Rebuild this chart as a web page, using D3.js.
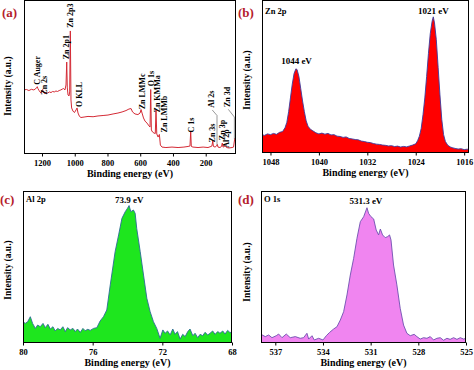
<!DOCTYPE html>
<html>
<head>
<meta charset="utf-8">
<script src="https://cdn.jsdelivr.net/npm/d3@7"></script>
<style>
  body { margin: 0; background: #fff; }
  svg { display: block; font-family: "Liberation Serif", "Times New Roman", serif; font-weight: bold; }
</style>
</head>
<body>
<script>
//Figure size
var W = 474, H = 370;

//(a) survey spectrum: [binding energy, intensity]
var survey = [
  [1310,41.6],[1295,41.9],[1280,41.2],[1265,42.0],[1250,41.6],[1240,42.2],[1233,43.2],[1229,43.7],
  [1225,42.5],[1218,41.2],[1212,40.3],[1206,39.6],[1201,40.9],[1196,41.9],[1191,39.9],[1184,39.3],
  [1175,39.9],[1165,39.6],[1155,40.3],[1145,39.9],[1135,40.6],[1125,40.3],[1115,40.9],[1105,40.6],
  [1095,41.2],[1085,41.6],[1075,42.2],[1068,42.5],[1060,41.6],[1053.4,44.8],[1049,59.7],[1045.5,42.9],
  [1041,38.3],[1035,37.7],[1031,40.3],[1027,79.9],[1023,35.1],[1019,29.9],[1011,27.9],[1002,26.9],
  [992,28.6],[986,29.9],[980,26.6],[971,24.4],[962,23.7],[943,24.0],[919,24.4],[888,24.2],
  [858,24.7],[827,25.0],[797,25.3],[766,26.0],[736,26.6],[711,27.3],[687,28.2],[669,29.2],
  [656,29.5],[647,27.3],[632,26.0],[614,25.6],[601,26.6],[595,28.9],[589,26.6],[580,23.4],
  [571,21.4],[559,20.1],[546,18.2],[540,17.5],[536,41.9],[532,15.6],[525,14.3],[516,13.6],
  [508,13.3],[503.6,28.6],[499,13.0],[491,11.0],[483,12.7],[477,5.8],[467,4.5],[443,4.2],
  [406,4.5],[369,4.2],[333,4.5],[308,4.9],[296,5.2],[291.7,14.6],[288,4.9],[278,4.5],
  [247,4.2],[216,4.5],[186,4.2],[168,4.9],[162,5.2],[157,8.4],[153,4.9],[143,4.5],
  [134,5.2],[129,6.2],[125,4.5],[113,4.2],[103.5,4.9],[98.7,7.1],[94.4,4.5],[85,4.9],
  [80.3,5.5],[73,4.2],[58,3.9],[39,4.2],[30,4.5],[24,9.1],[20,10.4],[15,7.8]
];

//(a) peak labels: [text, energy, intensity at text start]
var surveyLabels = [
  ["C Auger",1232,45],["Zn 2s",1188,38.5],["Zn 2p1",1053,61.5],["Zn 2p3",1029,82],
  ["O KLL",974,30.5],["Zn LMMc",589,29],["O 1s",534,44],["Zn KMMa",497,27],
  ["Zn LMMb",455,14],["C 1s",290,14],["Zn 3s",162,7.5],["Al 2s",168,30],
  ["Zn 3p",99,9],["Al 2p",76,4],["Zn 3d",68,30.5]
];

//(a) leader lines
var surveyLeaders = [
  [[160,28.6],[131,25],[131,6]],
  [[62,29],[25,24],[25,9.5]]
];

//(b) Zn 2p
var zn2p = [
  [1049.4,12],[1049.0,11.5],[1048.5,12.5],[1048.0,12],[1047.5,12.8],[1047.0,12.2],[1046.5,13.5],
  [1046.0,14],[1045.6,16.5],[1045.3,20],[1045.0,27],[1044.7,36],[1044.4,45],[1044.1,52],
  [1043.8,55],[1043.6,54.5],[1043.3,50],[1043.0,42],[1042.7,34],[1042.4,27],[1042.1,21],
  [1041.8,17.5],[1041.4,15.5],[1041.0,14.5],[1040.5,13.2],[1040.0,12.5],[1039.5,13],[1039.0,12.3],
  [1038.5,12.8],[1038.0,11.8],[1037.5,12],[1037.0,11],[1036.5,10.8],[1036.0,10.2],[1035.5,10.5],
  [1035.0,9.5],[1034.5,9.2],[1034.0,8.8],[1033.5,8.6],[1033.0,7.8],[1032.5,7.5],[1032.0,7],
  [1031.5,6.8],[1031.0,6.2],[1030.5,5.8],[1030.0,5.6],[1029.5,5.2],[1029.0,5.0],[1028.5,4.6],
  [1028.0,4.8],[1027.5,4.2],[1027.0,4.5],[1026.5,3.9],[1026.0,4.3],[1025.5,4],[1025.0,4.6],
  [1024.5,5.2],[1024.0,6],[1023.7,8],[1023.4,11],[1023.1,16],[1022.8,25],[1022.5,36],
  [1022.2,50],[1021.9,65],[1021.6,78],[1021.3,86],[1021.1,89],[1020.9,85],[1020.6,74],
  [1020.3,56],[1020.0,38],[1019.7,22],[1019.4,12],[1019.1,7.5],[1018.7,5],[1018.3,4],
  [1018.0,3.5],[1017.5,3],[1017.0,2.6],[1016.5,2.8],[1016.0,2.2],[1015.5,2.5],[1015.2,2.3]
];

//(c) Al 2p
var al2p = [
  [80.00,14.0],[79.87,12.9],[79.73,14.0],[79.58,17.3],[79.45,12.9],[79.29,9.6],[79.16,11.8],
  [79.01,10.7],[78.85,12.9],[78.72,10.1],[78.57,12.3],[78.43,9.2],[78.28,10.7],[78.15,7.9],
  [78.01,9.6],[77.86,8.6],[77.71,10.7],[77.57,7.5],[77.44,10.1],[77.29,8.6],[77.13,9.6],
  [77.00,7.5],[76.87,9.2],[76.71,7.0],[76.56,9.6],[76.43,8.1],[76.28,9.0],[76.14,8.3],
  [75.95,9.6],[75.76,10.1],[75.57,14.5],[75.38,17.3],[75.19,21.7],[74.99,38.2],[74.71,60.1],
  [74.51,71.1],[74.32,82.0],[74.13,86.4],[74.00,88.6],[73.91,90.4],[73.81,86.4],[73.66,87.5],
  [73.56,85.3],[73.47,75.4],[73.27,60.1],[73.08,44.7],[72.89,29.4],[72.70,20.6],[72.51,14.0],
  [72.32,9.6],[72.13,3.1],[71.97,8.6],[71.84,6.4],[71.70,7.9],[71.55,5.3],[71.40,9.2],
  [71.27,5.7],[71.13,7.5],[70.98,2.6],[70.83,5.7],[70.69,4.2],[70.54,7.5],[70.41,9.2],
  [70.25,4.8],[70.12,6.4],[69.97,3.5],[69.83,5.7],[69.68,4.8],[69.55,7.0],[69.39,5.3],
  [69.26,6.4],[69.11,7.9],[68.97,5.7],[68.82,7.5],[68.69,6.4],[68.53,7.9],[68.40,5.9],
  [68.25,8.3],[68.11,6.8],[68.00,7.5]
];

//(d) O 1s
var o1s = [
  [537.90,5.7],[537.63,4.2],[537.42,5.3],[537.21,3.5],[536.94,4.8],[536.79,5.9],[536.58,3.5],
  [536.31,5.9],[536.06,3.5],[535.74,4.2],[535.43,3.1],[535.22,3.5],[535.01,6.4],[534.90,2.6],
  [534.69,4.8],[534.55,2.0],[534.27,3.1],[534.00,2.0],[533.79,4.8],[533.58,7.0],[533.33,9.2],
  [533.12,10.7],[532.91,15.1],[532.70,20.6],[532.49,31.6],[532.28,44.7],[532.07,55.7],
  [531.86,68.9],[531.65,79.8],[531.44,83.1],[531.23,89.0],[531.13,85.3],[530.98,83.1],
  [530.81,81.6],[530.65,74.3],[530.50,71.1],[530.39,75.0],[530.25,71.1],[530.08,69.3],
  [529.93,70.0],[529.81,71.1],[529.72,67.8],[529.56,51.3],[529.35,38.2],[529.14,22.8],
  [528.93,11.8],[528.72,6.4],[528.51,4.8],[528.26,5.7],[528.09,4.2],[527.88,2.6],[527.67,3.5],
  [527.46,3.1],[527.25,4.2],[527.04,2.0],[526.83,3.1],[526.62,3.5],[526.41,1.8],[526.20,3.1],
  [526.00,2.4],[525.78,3.5],[525.57,2.4],[525.36,3.5],[525.15,2.6],[524.99,3.1]
];

//Tick labels
var surveyTicks = [1200,1000,800,600,400,200];
var zn2pTicks = [1048,1040,1032,1024,1016];
var al2pTicks = [80,76,72,68];
var o1sTicks = [537,534,531,528,525];

//Peak position labels: [text, energy, intensity]
var zn2pPeaks = [["1044 eV",1043.7,58],["1021 eV",1021.1,91]];
var al2pPeaks = [["73.9 eV",73.9,92]];
var o1sPeaks = [["531.3 eV",531.3,91.5]];

var svg = d3.select("body")
    .append("svg")
    .attr("width",W)
    .attr("height",H);

var panels = [
  {id:"a", data:survey, domain:[1310,15], ticks:surveyTicks, box:[24,236,0,154],
   fill:null, stroke:"#d42a35", title:null, peaks:[], ylab:[11,86], letter:[2,17]},
  {id:"b", data:zn2p, domain:[1049.4,1015.2], ticks:zn2pTicks, box:[262,469,0,153],
   fill:"#ff0000", stroke:"#3a3a9e", title:"Zn 2p", peaks:zn2pPeaks, ylab:[250,80], letter:[238,17]},
  {id:"c", data:al2p, domain:[80,68], ticks:al2pTicks, box:[23,232,191,343],
   fill:"#1ee61e", stroke:"#2b6b96", title:"Al 2p", peaks:al2pPeaks, ylab:[11,270], letter:[0,204]},
  {id:"d", data:o1s, domain:[537.9,525], ticks:o1sTicks, box:[261,466,191,343],
   fill:"#f085f0", stroke:"#6e50b0", title:"O 1s", peaks:o1sPeaks, ylab:[250,272], letter:[238,204]}
];

panels.forEach(drawPanel);

function drawPanel(p) {
    var left = p.box[0], right = p.box[1], top = p.box[2], bottom = p.box[3];
    var x = d3.scaleLinear().domain(p.domain).range([left,right]);
    var y = d3.scaleLinear().domain([0,100]).range([bottom,top]);
    var g = svg.append("g");

    g.append("clipPath")
        .attr("id","clip-" + p.id)
        .append("rect")
        .attr("x",left).attr("y",top)
        .attr("width",right - left).attr("height",bottom - top);

    var plot = g.append("g").attr("clip-path","url(#clip-" + p.id + ")");

    if (p.fill) {
        var area = d3.area()
            .x(function(d) { return x(d[0]); })
            .y0(y(0))
            .y1(function(d) { return y(d[1]); });
        plot.append("path")
            .datum(p.data)
            .attr("d",area)
            .attr("fill",p.fill);
    }

    var line = d3.line()
        .x(function(d) { return x(d[0]); })
        .y(function(d) { return y(d[1]); });
    plot.append("path")
        .datum(p.data)
        .attr("d",line)
        .attr("fill","none")
        .attr("stroke",p.stroke)
        .attr("stroke-width",p.fill ? 0.9 : 1);

    //Frame
    g.append("rect")
        .attr("x",left + 0.5).attr("y",top + 0.5)
        .attr("width",right - left - 1).attr("height",bottom - top - 1)
        .attr("fill","none")
        .attr("stroke","#000")
        .attr("stroke-width",1);

    //Bottom axis
    var axis = g.append("g")
        .attr("transform","translate(0," + (bottom - 0.5) + ")")
        .call(d3.axisBottom(x)
            .tickValues(p.ticks)
            .tickSize(3)
            .tickSizeOuter(0)
            .tickPadding(3)
            .tickFormat(d3.format("d")));
    axis.select(".domain").remove();
    axis.selectAll("line").attr("stroke","#000");
    axis.selectAll("text")
        .attr("font-size",8.5)
        .attr("font-family","Liberation Serif, serif")
        .attr("font-weight","bold")
        .attr("fill","#000");

    //Axis titles
    g.append("text")
        .attr("x",(left + right) / 2)
        .attr("y",bottom + 22.5)
        .attr("text-anchor","middle")
        .attr("font-size",10)
        .text("Binding energy (eV)");

    g.append("text")
        .attr("transform","translate(" + p.ylab[0] + "," + p.ylab[1] + ") rotate(-90)")
        .attr("text-anchor","middle")
        .attr("font-size",9.5)
        .text("Intensity (a.u.)");

    //Panel letter
    g.append("text")
        .attr("x",p.letter[0])
        .attr("y",p.letter[1])
        .attr("font-size",13)
        .attr("fill","#b5202c")
        .text("(" + p.id + ")");

    //Inner title
    if (p.title) {
        g.append("text")
            .attr("x",left + 3)
            .attr("y",top + (top === 0 ? 14 : 10.5))
            .attr("font-size",8.5)
            .text(p.title);
    }

    //Peak positions
    g.selectAll("text.peak")
        .data(p.peaks)
        .enter()
        .append("text")
        .attr("class","peak")
        .attr("x",function(d) { return x(d[1]); })
        .attr("y",function(d) { return y(d[2]); })
        .attr("text-anchor","middle")
        .attr("font-size",9)
        .text(function(d) { return d[0]; });

    if (p.id === "a") {
        var lead = d3.line()
            .x(function(d) { return x(d[0]); })
            .y(function(d) { return y(d[1]); });
        g.selectAll("path.leader")
            .data(surveyLeaders)
            .enter()
            .append("path")
            .attr("class","leader")
            .attr("d",lead)
            .attr("fill","none")
            .attr("stroke","#555")
            .attr("stroke-width",0.6);

        g.selectAll("text.elabel")
            .data(surveyLabels)
            .enter()
            .append("text")
            .attr("class","elabel")
            .attr("transform",function(d) {
                return "translate(" + (x(d[1]) + 2.8) + "," + y(d[2]) + ") rotate(-90)";
            })
            .attr("font-size",8)
            .text(function(d) { return d[0]; });
    }
}
</script>
</body>
</html>
